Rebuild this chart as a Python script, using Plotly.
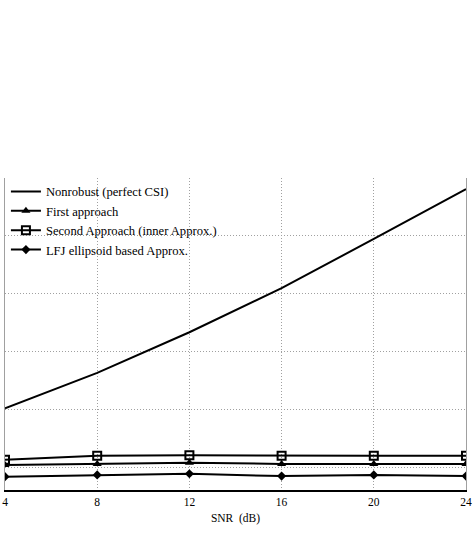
import plotly.graph_objects as go

snr_db = [4, 8, 12, 16, 20, 24]
nonrobust = [2.03, 2.64, 3.34, 4.10, 4.95, 5.81]
first_approach = [1.05, 1.07, 1.09, 1.07, 1.07, 1.07]
second_approach = [1.14, 1.21, 1.22, 1.21, 1.21, 1.21]
lfj_ellipsoid = [0.85, 0.88, 0.90, 0.86, 0.88, 0.86]

FONT = "Liberation Serif, Times New Roman, serif"
GRID = "#a0a0a0"

fig = go.Figure()
fig.add_scatter(
    x=snr_db, y=nonrobust, mode="lines", name="Nonrobust (perfect CSI)",
    line={"color": "black", "width": 2},
)
fig.add_scatter(
    x=snr_db, y=first_approach, mode="lines+markers", name="First approach",
    line={"color": "black", "width": 2},
    marker={"symbol": "triangle-up", "size": 8, "color": "black"},
)
fig.add_scatter(
    x=snr_db, y=second_approach, mode="lines+markers",
    name="Second Approach (inner Approx.)",
    line={"color": "black", "width": 2},
    marker={"symbol": "square-open", "size": 8, "color": "black",
            "line": {"width": 2}},
)
fig.add_scatter(
    x=snr_db, y=lfj_ellipsoid, mode="lines+markers",
    name="LFJ ellipsoid based Approx.",
    line={"color": "black", "width": 2},
    marker={"symbol": "diamond", "size": 7, "color": "black"},
)

fig.update_layout(
    width=474,
    height=548,
    margin={"l": 2, "r": 3, "t": 178, "b": 58},
    paper_bgcolor="white",
    plot_bgcolor="white",
    font={"family": FONT, "size": 12, "color": "black"},
    legend={
        "x": 0.002, "y": 1.004, "xanchor": "left", "yanchor": "top",
        "bgcolor": "rgba(255,255,255,0)", "font": {"family": FONT, "size": 12.6},
        "tracegroupgap": 0, "itemwidth": 30,
    },
)
fig.update_xaxes(
    range=[4, 24],
    tickvals=snr_db,
    ticktext=["4", "8", "12", "16", "20", "24"],
    ticklabeloverflow="allow",
    showgrid=True, gridcolor=GRID, griddash="1px,2px", gridwidth=1,
    showline=True, linecolor="black", linewidth=1.5, mirror=False,
    zeroline=False, ticks="",
    title={"text": "SNR  (dB)", "font": {"family": FONT, "size": 11.5}, "standoff": 7},
    tickfont={"family": FONT, "size": 11.5},
)
fig.update_yaxes(
    range=[0.62, 6],
    tickvals=[1, 2, 3, 4, 5, 6],
    showticklabels=False,
    showgrid=True, gridcolor=GRID, griddash="1px,2px", gridwidth=1,
    showline=True, linecolor=GRID, linewidth=1, mirror=True,
    zeroline=False, ticks="",
)

fig.write_html(
    "out.html",
    config={"displayModeBar": False},
    post_script="document.body.style.margin = '0';",
)
